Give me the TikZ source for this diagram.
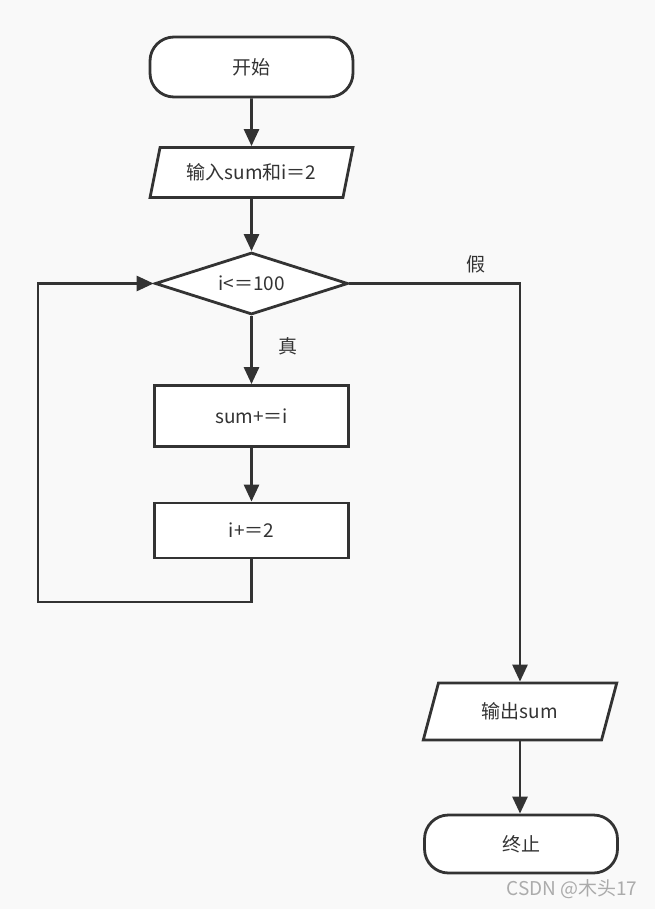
\documentclass[tikz,border=0pt]{standalone}
\usepackage{fontspec}
\setmainfont{Noto Sans CJK SC}
\usetikzlibrary{shapes.geometric,arrows.meta}
\definecolor{bgc}{HTML}{F9F9F9}
\definecolor{ink}{HTML}{333333}
\begin{document}
\begin{tikzpicture}[x=1pt,y=-1pt,
  every node/.style={font=\fontsize{19}{22}\selectfont, text=ink},
  box/.style={draw=ink, line width=2.8pt, fill=white, inner sep=0pt},
  term/.style={box, rectangle, rounded corners=24pt, minimum width=203pt, minimum height=60pt},
  proc/.style={box, rectangle, minimum width=194pt},
  io/.style={box, trapezium, trapezium stretches=true, trapezium left angle=68, trapezium right angle=112},
  dia/.style={box, diamond, shape aspect=3.1, minimum width=193pt, minimum height=62pt},
  conn/.style={draw=ink, line width=2.8pt, -{Triangle[length=17pt,width=15pt]}},
  lbl/.style={}]
\fill[bgc] (0,0) rectangle (655,909);
\useasboundingbox (0,0) rectangle (655,909);
\node[term] (start) at (251.5,67) {开始};
\node[io, minimum width=203pt, minimum height=50pt] (input) at (251.5,172.5) {输入sum和i＝2};
\node[dia] (dec) at (251.5,283.5) {i<＝100};
\node[proc, minimum height=61pt] (s1) at (251.5,416) {sum+＝i};
\node[proc, minimum height=55pt] (s2) at (251.5,530.5) {i+＝2};
\node[io, minimum width=195pt, minimum height=57pt] (out) at (520,711.5) {输出sum};
\node[term, minimum width=193pt, minimum height=58pt] (end) at (521,844) {终止};
\coordinate (lp) at (38,602);
\draw[conn] (start) -- (input);
\draw[conn] (input) -- (dec);
\draw[conn] (dec) -- (s1) node[lbl, pos=0.45, right=22pt] {真};
\draw[conn] (s1) -- (s2);
\draw[conn] (s2.south) |- (lp) |- (dec.west);
\draw[conn] (dec.east) -| (out.north) node[lbl, pos=0.37, above=6pt] {假};
\draw[conn] (out.south) -- (out.south |- end.north);
\node[anchor=east, text=black!33, font=\fontsize{19}{22}\selectfont] (wm) at (641,889) {CSDN @木头17};
\end{tikzpicture}
\end{document}
